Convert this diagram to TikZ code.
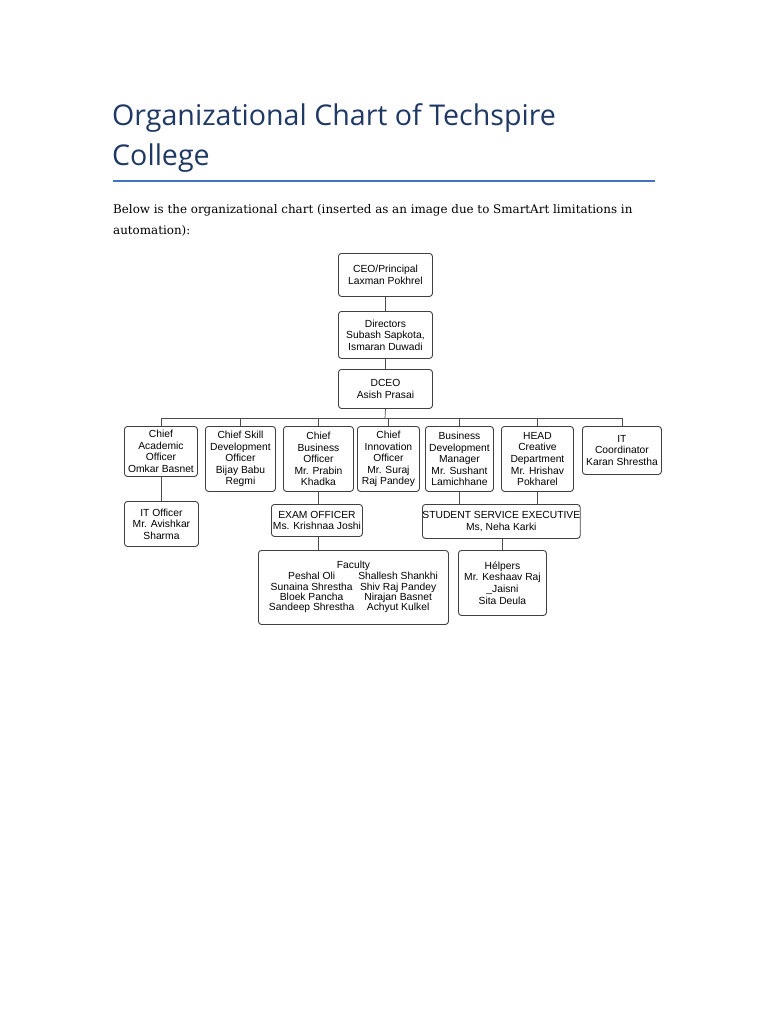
\documentclass[tikz,border=0pt]{standalone}
\usepackage{fontspec}
\setmainfont{DejaVu Serif}
\newfontfamily\titlefont{Open Sans}
\newfontfamily\chartfont{Liberation Sans}
\definecolor{titleblue}{HTML}{1F3864}
\definecolor{ruleblue}{HTML}{4472C4}
\begin{document}
\begin{tikzpicture}[x=1pt,y=-1pt,
  box/.style={draw=black!75,rounded corners=3pt,line width=0.9pt,align=center,font=\chartfont\fontsize{10.3}{11.6}\selectfont,inner sep=0pt,anchor=north west},
  con/.style={draw=black!70,line width=0.7pt}]
\useasboundingbox (0,0) rectangle (768,1024);
\node[anchor=base west,text=titleblue,font=\titlefont\fontsize{28.6}{34}\selectfont,inner sep=0pt] (t1) at (112,126) {Organizational Chart of Techspire};
\node[anchor=base west,text=titleblue,font=\titlefont\fontsize{28.6}{34}\selectfont,inner sep=0pt] (t2) at (112,166) {College};
\draw[ruleblue,line width=1.2pt] (113,181) -- (655,181);
\node[anchor=base west,font=\fontsize{11.9}{14}\selectfont,inner sep=0pt] (b1) at (113,214) {Below is the organizational chart (inserted as an image due to SmartArt limitations in};
\node[anchor=base west,font=\fontsize{11.9}{14}\selectfont,inner sep=0pt] (b2) at (113,234) {automation):};
% boxes
\node[box,minimum width=94pt,minimum height=43pt] (ceo) at (338,253) {CEO/Principal\\Laxman Pokhrel};
\node[box,minimum width=94pt,minimum height=47pt] (dir) at (338,311) {Directors\\Subash Sapkota,\\Ismaran Duwadi};
\node[box,minimum width=94pt,minimum height=39pt] (dceo) at (338,369) {DCEO\\Asish Prasai};
\node[box,minimum width=73pt,minimum height=50pt] (cao) at (124,426) {Chief\\Academic\\Officer\\Omkar Basnet};
\node[box,minimum width=70pt,minimum height=65pt] (cso) at (205,426) {Chief Skill\\Development\\Officer\\Bijay Babu\\Regmi};
\node[box,minimum width=70pt,minimum height=65pt] (cbo) at (283,426) {Chief\\Business\\Officer\\Mr. Prabin\\Khadka};
\node[box,minimum width=62pt,minimum height=65pt] (cio) at (357,426) {Chief\\Innovation\\Officer\\Mr. Suraj\\Raj Pandey};
\node[box,minimum width=68pt,minimum height=65pt] (bdm) at (425,426) {Business\\Development\\Manager\\Mr. Sushant\\Lamichhane};
\node[box,minimum width=72pt,minimum height=65pt] (head) at (501,426) {HEAD\\Creative\\Department\\Mr. Hrishav\\Pokharel};
\node[box,minimum width=79pt,minimum height=48pt] (itc) at (582,426) {IT\\Coordinator\\Karan Shrestha};
\node[box,minimum width=74pt,minimum height=45pt] (ito) at (124,501) {IT Officer\\Mr. Avishkar\\Sharma};
\node[box,minimum width=91pt,minimum height=32pt] (exam) at (271,504) {EXAM OFFICER\\Ms. Krishnaa Joshi};
\node[box,minimum width=155pt,minimum height=34pt] (sse) at (422,504) {STUDENT SERVICE EXECUTIVE\\Ms, Neha Karki};
\node[box,minimum width=190pt,minimum height=74pt] (fac) at (258,550) {Faculty\\[0pt]
\begin{tabular}{@{}c@{\hspace{4pt}}c@{}}Peshal Oli & Shallesh Shankhi\\[-1.5pt] Sunaina Shrestha & Shiv Raj Pandey\\[-1.5pt] Bloek Pancha & Nirajan Basnet\\[-1.5pt] Sandeep Shrestha & Achyut Kulkel\end{tabular}};
\node[box,minimum width=88pt,minimum height=65pt] (help) at (458,550) {H\'elpers\\Mr. Keshaav Raj\\\_Jaisni\\Sita Deula};
% connectors
\draw[con] (ceo.south) -- (dir.north);
\draw[con] (dir.south) -- (dceo.north);
\coordinate (bus) at (385,418);
\draw[con] (dceo.south) -- (bus);
\draw[con] (cao.north |- bus) -- (itc.north |- bus);
\foreach \n in {cao,cso,cbo,cio,bdm,head,itc} \draw[con] (\n.north |- bus) -- (\n.north);
\draw[con] (cao.south) -- (cao.south |- ito.north);
\draw[con] (cbo.south) -- (cbo.south |- exam.north);
\draw[con] (bdm.south) -- (bdm.south |- sse.north);
\draw[con] (head.south) -- (head.south |- sse.north);
\draw[con] (exam.south -| cbo.south) -- (fac.north -| cbo.south);
\draw[con] (sse.south -| help.north) -- (help.north);
\end{tikzpicture}
\end{document}
